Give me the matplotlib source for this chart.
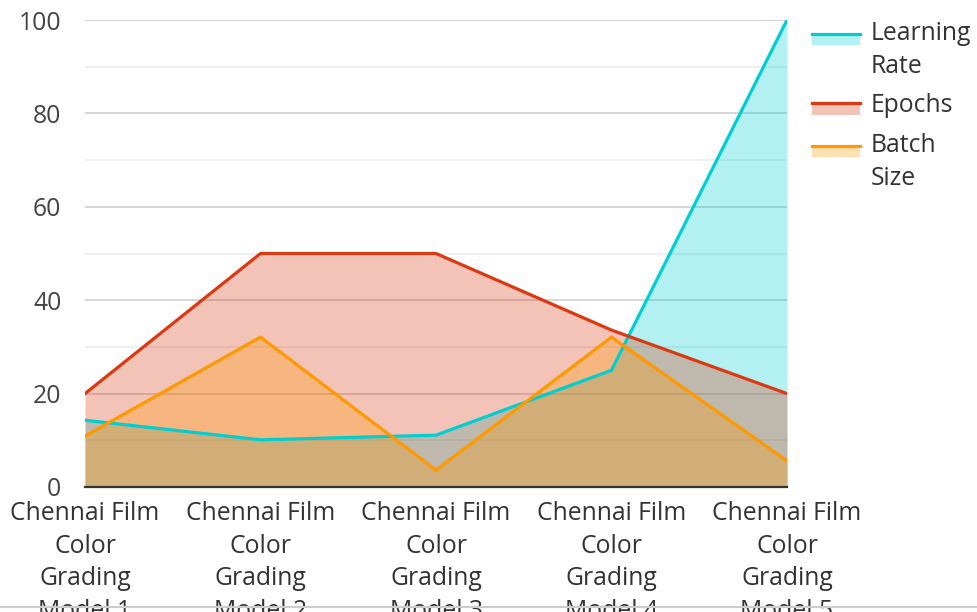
import matplotlib
matplotlib.use("Agg")
import matplotlib.pyplot as plt
from matplotlib.lines import Line2D
from matplotlib.patches import Rectangle
from matplotlib.legend_handler import HandlerBase
import numpy as np

categories = ["Chennai Film Color Grading Model 1", "Chennai Film Color Grading Model 2",
              "Chennai Film Color Grading Model 3", "Chennai Film Color Grading Model 4",
              "Chennai Film Color Grading Model 5"]
tick_labels = ["Chennai Film\nColor\nGrading\nModel %d" % i for i in range(1, 6)]
series_names = ["Learning\nRate", "Epochs", "Batch\nSize"]
learning_rate = [14.3, 10.1, 11.1, 25.0, 100.0]
epochs = [20.0, 50.0, 50.0, 33.6, 20.0]
batch_size = [10.9, 32.1, 3.6, 32.1, 5.6]
colors = ["#00CED1", "#DC3912", "#FF9900"]
y_ticks = [0, 20, 40, 60, 80, 100]

plt.rcParams['font.family'] = ['Open Sans', 'DejaVu Sans']
FS = 17.8
LS = 1.4

fig = plt.figure(figsize=(9.77, 6.12), dpi=100)
ax = fig.add_axes([85/977, 1-487/612, (787-85)/977, (487-20)/612])

x = np.arange(len(categories))
series = [learning_rate, epochs, batch_size]
for vals, c in zip(series, colors):
    ax.fill_between(x, 0, vals, color=c, alpha=0.3, linewidth=0, zorder=2)
handles = []
for vals, c, name in zip(series, colors, series_names):
    ln, = ax.plot(x, vals, color=c, linewidth=2.3, zorder=3, label=name,
                  solid_joinstyle='miter')
    handles.append(ln)

ax.set_xlim(0, len(categories)-1)
ax.set_ylim(0, 100)
ax.set_yticks(y_ticks)
ax.set_yticks([10, 30, 50, 70, 90], minor=True)
ax.grid(True, which='major', axis='y', color='#cccccc', linewidth=1.1, zorder=1)
ax.grid(True, which='minor', axis='y', color='#ebebeb', linewidth=1.1, zorder=1)
ax.set_axisbelow(True)
ax.set_xticks(x)
ax.set_xticklabels(tick_labels, linespacing=LS)
for sp in ['top', 'right', 'left']:
    ax.spines[sp].set_visible(False)
ax.spines['bottom'].set_color('#333333')
ax.spines['bottom'].set_linewidth(1.6)
ax.spines['bottom'].set_zorder(4)
ax.tick_params(axis='y', which='both', length=0, pad=17, labelsize=FS, labelcolor='#444444')
ax.tick_params(axis='x', length=0, pad=10.2, labelsize=FS, labelcolor='#333333')


class LineFillHandler(HandlerBase):
    def create_artists(self, legend, orig_handle, xdescent, ydescent, width,
                       height, fontsize, trans):
        c = orig_handle.get_color()
        nl = orig_handle.get_label().count("\n")
        top = height * 0.75 - 2.5 + nl * fontsize * 0.655
        ph = fontsize * 0.47
        rect = Rectangle((-xdescent, top - ph), width, ph,
                         facecolor=c, alpha=0.3, edgecolor='none', transform=trans)
        line = Line2D([-xdescent, width - xdescent], [top, top], color=c,
                      linewidth=2.3, transform=trans)
        return [rect, line]


leg = ax.legend(handles=handles, loc='upper left', bbox_to_anchor=(812/977, 1-21/612),
                bbox_transform=fig.transFigure, frameon=False, fontsize=FS,
                handlelength=1.93, handletextpad=0.45, labelspacing=0.6,
                borderaxespad=0, borderpad=0,
                handler_map={Line2D: LineFillHandler()})
for t in leg.get_texts():
    t.set_linespacing(LS)
    t.set_color('#333333')

fig.add_artist(Line2D([0, 1], [1-607/612, 1-607/612], transform=fig.transFigure,
                      color='#cccccc', linewidth=1.5))

fig.savefig("out.png", dpi=100)
